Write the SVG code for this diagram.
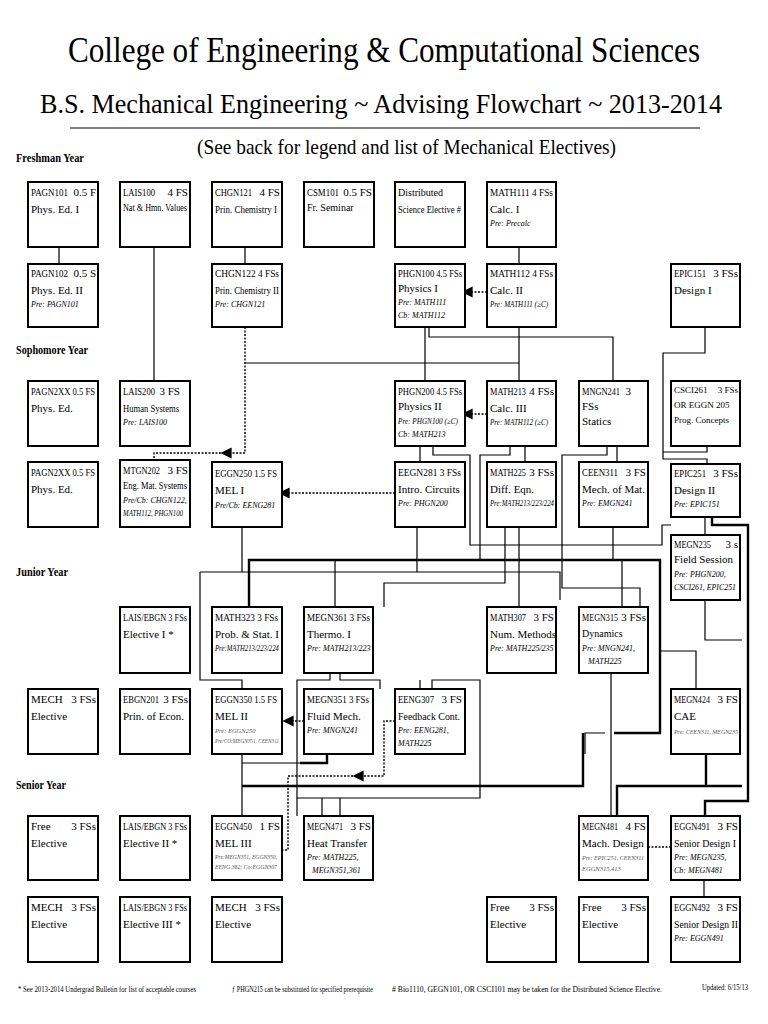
<svg xmlns="http://www.w3.org/2000/svg" width="768" height="1024" viewBox="0 0 768 1024">
<defs>
<style>
text{font-family:"Liberation Serif",serif;fill:#000}
.b{fill:#fff;stroke:#000;stroke-width:2}
.t{font-size:11px}
.r{font-size:11px;text-anchor:end}
.p{font-size:8px;font-style:italic}
.g{font-size:6.5px;font-style:italic;fill:#555}
.y{font-size:12px;font-weight:bold}
.l{fill:none;stroke:#000;stroke-width:1.2}
.k{fill:none;stroke:#000;stroke-width:2.4}
.d{fill:none;stroke:#000;stroke-width:1.4;stroke-dasharray:2 1.5}
</style>
<marker id="a" markerWidth="8" markerHeight="8" refX="4" refY="4" orient="auto"><path d="M0,0 L8,4 L0,8z" fill="#000"/></marker>
</defs>
<rect width="768" height="1024" fill="#fff"/>
<text x="68" y="62" font-size="36" textLength="632" lengthAdjust="spacingAndGlyphs">College of Engineering &amp; Computational Sciences</text>
<text x="40" y="113" font-size="28" textLength="682" lengthAdjust="spacingAndGlyphs">B.S. Mechanical Engineering ~  Advising Flowchart  ~  2013-2014</text>
<line x1="70" y1="128" x2="700" y2="128" stroke="#000" stroke-width="1.2"/>
<text x="197" y="154" font-size="22" textLength="419" lengthAdjust="spacingAndGlyphs">(See back for legend and list of Mechanical Electives)</text>
<text class="y" x="16" y="162" textLength="68" lengthAdjust="spacingAndGlyphs">Freshman Year</text>
<text class="y" x="16" y="354" textLength="72" lengthAdjust="spacingAndGlyphs">Sophomore Year</text>
<text class="y" x="16" y="576" textLength="52" lengthAdjust="spacingAndGlyphs">Junior Year</text>
<text class="y" x="16" y="789" textLength="50" lengthAdjust="spacingAndGlyphs">Senior Year</text>

<g id="connectors">
<path class="l" d="M59,247V264 M154,247V381 M245,247V264 M519,247V381 M245,363H519"/>
<path class="d" d="M245,327V453H226" marker-end="url(#a)"/>
<path class="d" d="M228,453H154V460"/>
<path class="d" d="M487,292H467" marker-end="url(#a)"/>
<path class="l" d="M425,327V381 M429,327V337H613V381"/>
<path class="l" d="M705,327V353H663V459H707V464 M707,446V452H663"/>
<path class="d" d="M487,414H467" marker-end="url(#a)"/>
<path class="l" d="M420,446V462 M525,446V462 M617,446V462 M705,517V535"/>
<path class="d" d="M395,493H284" marker-end="url(#a)"/>
<path class="l" d="M433,446V455H470V545H662V525H671 M510,446V455H480V560 M607,446V455H562V588H640V607"/>
<path class="l" d="M417,527V572 M242,527V572 M200,572H560V600 M200,572V680H242V689 M505,527V583H384V607 M519,527V607 M622,560V607"/>
<path class="k" d="M249,607V560H660V733H614 M712,517V525H748V801H705V816"/>
<path class="l" d="M335,560V607 M613,527V560 M705,600V640H742 M660,651H696V689"/>
<path class="l" d="M611,673V816 M605,733H585V754"/>
<path class="l" d="M330,673V680H297V798H480V680H432V689 M340,673V680H380V689 M420,680V689"/>
<path class="k" d="M242,786H583V733 M617,816V786H742 M706,754V786"/>
<path class="l" d="M242,754V816 M242,763H300 M322,798V816 M340,798V816 M297,798V816"/>
<path class="k" d="M300,763H327V754"/>
<path class="d" d="M304,721H288" marker-end="url(#a)"/>
<path class="d" d="M395,721H384V776H358" marker-end="url(#a)"/>
<path class="d" d="M360,776H288V850H283"/>
<path class="d" d="M671,847H598" marker-end="url(#a)"/>
<path class="l" d="M704,880V897"/>
</g>

<g id="PAGN101"><rect class="b" x="28" y="182" width="70" height="65"/><text class="t" x="31" y="196" textLength="37" lengthAdjust="spacingAndGlyphs">PAGN101</text><text class="r" x="96" y="196">0.5  F</text><text class="t" x="31" y="213">Phys. Ed. I</text></g>
<g id="LAIS100"><rect class="b" x="120" y="182" width="70" height="65"/><text class="t" x="123" y="196" textLength="32" lengthAdjust="spacingAndGlyphs">LAIS100</text><text class="r" x="188" y="196">4  FS</text><text x="123" y="211" font-size="10" textLength="64" lengthAdjust="spacingAndGlyphs">Nat &amp; Hmn. Values</text></g>
<g id="CHGN121"><rect class="b" x="212" y="182" width="70" height="65"/><text class="t" x="215" y="196" textLength="37" lengthAdjust="spacingAndGlyphs">CHGN121</text><text class="r" x="280" y="196">4 FS</text><text class="t" x="215" y="213" textLength="62" lengthAdjust="spacingAndGlyphs">Prin. Chemistry I</text></g>
<g id="CSM101"><rect class="b" x="304" y="182" width="70" height="65"/><text class="t" x="307" y="196" textLength="32" lengthAdjust="spacingAndGlyphs">CSM101</text><text class="r" x="372" y="196">0.5 FS</text><text x="307" y="211" font-size="10">Fr. Seminar</text></g>
<g id="DSE"><rect class="b" x="395" y="182" width="70" height="65"/><text x="398" y="196" font-size="10">Distributed</text><text x="398" y="213" font-size="10" textLength="63" lengthAdjust="spacingAndGlyphs">Science Elective #</text></g>
<g id="MATH111"><rect class="b" x="487" y="182" width="69" height="65"/><text class="t" x="490" y="196" textLength="63" lengthAdjust="spacingAndGlyphs">MATH111 4 FSs</text><text class="t" x="490" y="213">Calc. I</text><text class="p" x="490" y="226">Pre: Precalc</text></g>

<g id="PAGN102"><rect class="b" x="28" y="264" width="70" height="63"/><text class="t" x="31" y="277" textLength="37" lengthAdjust="spacingAndGlyphs">PAGN102</text><text class="r" x="96" y="277">0.5  S</text><text class="t" x="31" y="294">Phys. Ed. II</text><text class="p" x="31" y="307">Pre: PAGN101</text></g>
<g id="CHGN122"><rect class="b" x="212" y="264" width="70" height="63"/><text class="t" x="215" y="277" textLength="64" lengthAdjust="spacingAndGlyphs">CHGN122 4 FSs</text><text class="t" x="215" y="294" textLength="64" lengthAdjust="spacingAndGlyphs">Prin. Chemistry II</text><text class="p" x="215" y="307">Pre: CHGN121</text></g>
<g id="PHGN100"><rect class="b" x="395" y="264" width="70" height="63"/><text class="t" x="398" y="277" textLength="64" lengthAdjust="spacingAndGlyphs">PHGN100 4.5 FSs</text><text class="t" x="398" y="292">Physics I</text><text class="p" x="398" y="305">Pre: MATH111</text><text class="p" x="398" y="318">Cb: MATH112</text></g>
<g id="MATH112"><rect class="b" x="487" y="264" width="69" height="63"/><text class="t" x="490" y="277" textLength="63" lengthAdjust="spacingAndGlyphs">MATH112 4 FSs</text><text class="t" x="490" y="294">Calc. II</text><text class="p" x="490" y="307" textLength="58" lengthAdjust="spacingAndGlyphs">Pre: MATH111 (≥C)</text></g>
<g id="EPIC151"><rect class="b" x="671" y="264" width="69" height="63"/><text class="t" x="674" y="277" textLength="32" lengthAdjust="spacingAndGlyphs">EPIC151</text><text class="r" x="738" y="277">3 FSs</text><text class="t" x="674" y="294">Design I</text></g>

<g id="PAGN2XXa"><rect class="b" x="28" y="381" width="70" height="65"/><text class="t" x="31" y="395" textLength="64" lengthAdjust="spacingAndGlyphs">PAGN2XX 0.5 FS</text><text class="t" x="31" y="412">Phys. Ed.</text></g>
<g id="LAIS200"><rect class="b" x="120" y="381" width="70" height="65"/><text class="t" x="123" y="395" textLength="32" lengthAdjust="spacingAndGlyphs">LAIS200</text><text class="r" x="180" y="395">3  FS</text><text class="t" x="123" y="412" textLength="56" lengthAdjust="spacingAndGlyphs">Human Systems</text><text class="p" x="123" y="425">Pre: LAIS100</text></g>
<g id="PHGN200"><rect class="b" x="395" y="381" width="70" height="65"/><text class="t" x="398" y="395" textLength="64" lengthAdjust="spacingAndGlyphs">PHGN200 4.5 FSs</text><text class="t" x="398" y="410">Physics II</text><text class="p" x="398" y="424" textLength="60" lengthAdjust="spacingAndGlyphs">Pre: PHGN100 (≥C)</text><text class="p" x="398" y="437">Cb: MATH213</text></g>
<g id="MATH213"><rect class="b" x="487" y="381" width="69" height="65"/><text class="t" x="490" y="395" textLength="36" lengthAdjust="spacingAndGlyphs">MATH213</text><text class="r" x="554" y="395">4 FSs</text><text class="t" x="490" y="412">Calc. III</text><text class="p" x="490" y="425" textLength="58" lengthAdjust="spacingAndGlyphs">Pre: MATH112 (≥C)</text></g>
<g id="MNGN241"><rect class="b" x="579" y="381" width="69" height="65"/><text class="t" x="582" y="395" textLength="38" lengthAdjust="spacingAndGlyphs">MNGN241</text><text class="r" x="606" y="395" dx="25">3</text><text class="t" x="582" y="410">FSs</text><text class="t" x="582" y="425">Statics</text></g>
<g id="CSCI261"><rect class="b" x="671" y="381" width="69" height="65"/><text x="674" y="393" font-size="9">CSCI261</text><text x="738" y="393" font-size="9" text-anchor="end">3 FSs</text><text x="674" y="408" font-size="9">OR EGGN 205</text><text x="674" y="423" font-size="9">Prog. Concepts</text></g>

<g id="PAGN2XXb"><rect class="b" x="28" y="462" width="70" height="65"/><text class="t" x="31" y="476" textLength="64" lengthAdjust="spacingAndGlyphs">PAGN2XX 0.5 FS</text><text class="t" x="31" y="493">Phys. Ed.</text></g>
<g id="MTGN202"><rect class="b" x="120" y="460" width="70" height="67"/><text class="t" x="123" y="474" textLength="37" lengthAdjust="spacingAndGlyphs">MTGN202</text><text class="r" x="188" y="474">3 FS</text><text class="t" x="123" y="489" textLength="64" lengthAdjust="spacingAndGlyphs">Eng. Mat. Systems</text><text class="p" x="123" y="503">Pre/Cb: CHGN122,</text><text class="p" x="123" y="516" textLength="60" lengthAdjust="spacingAndGlyphs">MATH112, PHGN100</text></g>
<g id="EGGN250"><rect class="b" x="212" y="462" width="70" height="65"/><text class="t" x="215" y="477" textLength="62" lengthAdjust="spacingAndGlyphs">EGGN250  1.5 FS</text><text class="t" x="215" y="494">MEL I</text><text class="p" x="215" y="508">Pre/Cb: EENG281</text></g>
<g id="EEGN281"><rect class="b" x="395" y="462" width="70" height="65"/><text class="t" x="398" y="476" textLength="63" lengthAdjust="spacingAndGlyphs">EEGN281  3 FSs</text><text class="t" x="398" y="493">Intro. Circuits</text><text class="p" x="398" y="506">Pre: PHGN200</text></g>
<g id="MATH225"><rect class="b" x="487" y="462" width="69" height="65"/><text class="t" x="490" y="476" textLength="36" lengthAdjust="spacingAndGlyphs">MATH225</text><text class="r" x="554" y="476">3 FSs</text><text class="t" x="490" y="493">Diff. Eqn.</text><text class="p" x="490" y="506" textLength="64" lengthAdjust="spacingAndGlyphs">Pre:MATH213/223/224</text></g>
<g id="CEEN311"><rect class="b" x="579" y="462" width="69" height="65"/><text class="t" x="582" y="476" textLength="36" lengthAdjust="spacingAndGlyphs">CEEN311</text><text class="r" x="646" y="476">3 FS</text><text class="t" x="582" y="493">Mech. of Mat.</text><text class="p" x="582" y="506">Pre: EMGN241</text></g>
<g id="EPIC251"><rect class="b" x="671" y="464" width="69" height="53"/><text class="t" x="674" y="477" textLength="32" lengthAdjust="spacingAndGlyphs">EPIC251</text><text class="r" x="738" y="477">3 FSs</text><text class="t" x="674" y="494">Design II</text><text class="p" x="674" y="507">Pre: EPIC151</text></g>
<g id="MEGN235"><rect class="b" x="671" y="535" width="69" height="65"/><text class="t" x="674" y="548" textLength="37" lengthAdjust="spacingAndGlyphs">MEGN235</text><text class="r" x="738" y="548">3 s</text><text class="t" x="674" y="563">Field Session</text><text class="p" x="674" y="577">Pre: PHGN200,</text><text class="p" x="674" y="590" textLength="62" lengthAdjust="spacingAndGlyphs">CSCI261, EPIC251</text></g>

<g id="LAISEBGN1"><rect class="b" x="120" y="607" width="70" height="66"/><text class="t" x="123" y="621" textLength="64" lengthAdjust="spacingAndGlyphs">LAIS/EBGN 3 FSs</text><text class="t" x="123" y="638">Elective I *</text></g>
<g id="MATH323"><rect class="b" x="212" y="607" width="70" height="66"/><text class="t" x="215" y="621" textLength="63" lengthAdjust="spacingAndGlyphs">MATH323  3 FSs</text><text class="t" x="215" y="638">Prob. &amp; Stat. I</text><text class="p" x="215" y="651" textLength="64" lengthAdjust="spacingAndGlyphs">Pre:MATH213/223/224</text></g>
<g id="MEGN361"><rect class="b" x="304" y="607" width="69" height="66"/><text class="t" x="307" y="621" textLength="63" lengthAdjust="spacingAndGlyphs">MEGN361  3 FSs</text><text class="t" x="307" y="638">Thermo. I</text><text class="p" x="307" y="651">Pre: MATH213/223</text></g>
<g id="MATH307"><rect class="b" x="487" y="607" width="69" height="66"/><text class="t" x="490" y="621" textLength="36" lengthAdjust="spacingAndGlyphs">MATH307</text><text class="r" x="554" y="621">3 FS</text><text class="t" x="490" y="638">Num. Methods</text><text class="p" x="490" y="651">Pre: MATH225/235</text></g>
<g id="MEGN315"><rect class="b" x="579" y="607" width="69" height="66"/><text class="t" x="582" y="621" textLength="36" lengthAdjust="spacingAndGlyphs">MEGN315</text><text class="r" x="646" y="621">3 FSs</text><text x="582" y="637" font-size="10">Dynamics</text><text class="p" x="582" y="651">Pre: MNGN241,</text><text class="p" x="588" y="664">MATH225</text></g>

<g id="MECH1"><rect class="b" x="28" y="689" width="70" height="65"/><text class="t" x="31" y="703">MECH</text><text class="r" x="96" y="703">3 FSs</text><text class="t" x="31" y="720">Elective</text></g>
<g id="EBGN201"><rect class="b" x="120" y="689" width="70" height="65"/><text class="t" x="123" y="703" textLength="36" lengthAdjust="spacingAndGlyphs">EBGN201</text><text class="r" x="188" y="703">3 FSs</text><text class="t" x="123" y="720">Prin. of Econ.</text></g>
<g id="EGGN350"><rect class="b" x="212" y="689" width="70" height="65"/><text class="t" x="215" y="703" textLength="62" lengthAdjust="spacingAndGlyphs">EGGN350  1.5 FS</text><text class="t" x="215" y="720">MEL II</text><text class="g" x="215" y="733">Pre: EGGN250</text><text class="g" x="215" y="743" textLength="64" lengthAdjust="spacingAndGlyphs">Pre/CO:MEGN351, CEEN311</text></g>
<g id="MEGN351"><rect class="b" x="304" y="689" width="69" height="65"/><text class="t" x="307" y="703" textLength="62" lengthAdjust="spacingAndGlyphs">MEGN351 3 FSs</text><text class="t" x="307" y="720">Fluid Mech.</text><text class="p" x="307" y="733">Pre: MNGN241</text></g>
<g id="EENG307"><rect class="b" x="395" y="689" width="70" height="65"/><text class="t" x="398" y="703" textLength="36" lengthAdjust="spacingAndGlyphs">EENG307</text><text class="r" x="462" y="703">3  FS</text><text class="t" x="398" y="720" textLength="62" lengthAdjust="spacingAndGlyphs">Feedback Cont.</text><text class="p" x="398" y="733">Pre: EENG281,</text><text class="p" x="398" y="746">MATH225</text></g>
<g id="MEGN424"><rect class="b" x="671" y="689" width="69" height="65"/><text class="t" x="674" y="703" textLength="36" lengthAdjust="spacingAndGlyphs">MEGN424</text><text class="r" x="738" y="703">3 FS</text><text class="t" x="674" y="720">CAE</text><text class="g" x="674" y="734" textLength="64" lengthAdjust="spacingAndGlyphs">Pre: CEEN311, MEGN235</text></g>

<g id="FreeA"><rect class="b" x="28" y="816" width="70" height="64"/><text class="t" x="31" y="830">Free</text><text class="r" x="96" y="830">3 FSs</text><text class="t" x="31" y="847">Elective</text></g>
<g id="LAISEBGN2"><rect class="b" x="120" y="816" width="70" height="64"/><text class="t" x="123" y="830" textLength="64" lengthAdjust="spacingAndGlyphs">LAIS/EBGN 3 FSs</text><text class="t" x="123" y="847">Elective II *</text></g>
<g id="EGGN450"><rect class="b" x="212" y="816" width="70" height="64"/><text class="t" x="215" y="830" textLength="37" lengthAdjust="spacingAndGlyphs">EGGN450</text><text class="r" x="280" y="830">1 FS</text><text class="t" x="215" y="847">MEL III</text><text class="g" x="215" y="859" textLength="62" lengthAdjust="spacingAndGlyphs">Pre:MEGN351, EGGN350,</text><text class="g" x="215" y="869" textLength="62" lengthAdjust="spacingAndGlyphs">EENG 382;  Co:EGGN307</text></g>
<g id="MEGN471"><rect class="b" x="304" y="816" width="69" height="64"/><text class="t" x="307" y="830" textLength="36" lengthAdjust="spacingAndGlyphs">MEGN471</text><text class="r" x="371" y="830">3 FS</text><text class="t" x="307" y="847">Heat Transfer</text><text class="p" x="307" y="860">Pre: MATH225,</text><text class="p" x="312" y="873">MEGN351,361</text></g>
<g id="MEGN481"><rect class="b" x="579" y="816" width="69" height="64"/><text class="t" x="582" y="830" textLength="36" lengthAdjust="spacingAndGlyphs">MEGN481</text><text class="r" x="646" y="830">4 FS</text><text class="t" x="582" y="847">Mach. Design</text><text class="g" x="582" y="860" textLength="62" lengthAdjust="spacingAndGlyphs">Pre: EPIC251, CEEN311</text><text class="g" x="582" y="871">EGGN315,413</text></g>
<g id="EGGN491"><rect class="b" x="671" y="816" width="69" height="64"/><text class="t" x="674" y="830" textLength="36" lengthAdjust="spacingAndGlyphs">EGGN491</text><text class="r" x="738" y="830">3 FS</text><text class="t" x="674" y="847" textLength="62" lengthAdjust="spacingAndGlyphs">Senior Design I</text><text class="p" x="674" y="860">Pre: MEGN235,</text><text class="p" x="674" y="873">Cb: MEGN481</text></g>

<g id="MECH2"><rect class="b" x="28" y="897" width="70" height="65"/><text class="t" x="31" y="911">MECH</text><text class="r" x="96" y="911">3 FSs</text><text class="t" x="31" y="928">Elective</text></g>
<g id="LAISEBGN3"><rect class="b" x="120" y="897" width="70" height="65"/><text class="t" x="123" y="911" textLength="64" lengthAdjust="spacingAndGlyphs">LAIS/EBGN 3 FSs</text><text class="t" x="123" y="928">Elective III *</text></g>
<g id="MECH3"><rect class="b" x="212" y="897" width="70" height="65"/><text class="t" x="215" y="911">MECH</text><text class="r" x="280" y="911">3 FSs</text><text class="t" x="215" y="928">Elective</text></g>
<g id="FreeB"><rect class="b" x="487" y="897" width="69" height="65"/><text class="t" x="490" y="911">Free</text><text class="r" x="554" y="911">3 FSs</text><text class="t" x="490" y="928">Elective</text></g>
<g id="FreeC"><rect class="b" x="579" y="897" width="69" height="65"/><text class="t" x="582" y="911">Free</text><text class="r" x="646" y="911">3 FSs</text><text class="t" x="582" y="928">Elective</text></g>
<g id="EGGN492"><rect class="b" x="671" y="897" width="69" height="65"/><text class="t" x="674" y="911" textLength="36" lengthAdjust="spacingAndGlyphs">EGGN492</text><text class="r" x="738" y="911">3 FS</text><text class="t" x="674" y="928" textLength="64" lengthAdjust="spacingAndGlyphs">Senior Design II</text><text class="p" x="674" y="941">Pre: EGGN491</text></g>

<text x="18" y="992" font-size="8.5" textLength="178" lengthAdjust="spacingAndGlyphs">* See 2013-2014 Undergrad Bulletin for list of acceptable courses</text>
<text x="232" y="992" font-size="8.5" textLength="141" lengthAdjust="spacingAndGlyphs">ƒ PHGN215 can be substituted for specified prerequisite</text>
<text x="392" y="992" font-size="8.5" textLength="270" lengthAdjust="spacingAndGlyphs"># Bio1110, GEGN101, OR CSCI101 may be taken for the Distributed Science Elective.</text>
<text x="702" y="990" font-size="8.5" textLength="46" lengthAdjust="spacingAndGlyphs">Updated: 6/15/13</text>
</svg>
